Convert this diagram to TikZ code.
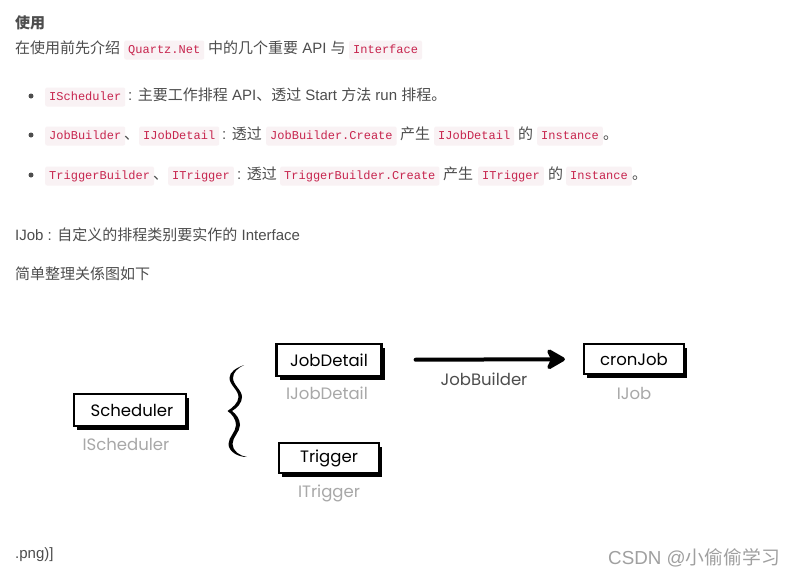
\documentclass[tikz,border=0pt]{standalone}
\usepackage{fontspec}
\setmainfont{Liberation Sans}
\setmonofont{Liberation Mono}
\newfontfamily\cjk{Noto Sans CJK SC}
\newfontfamily\sketchfont{Poppins}
\usetikzlibrary{arrows.meta}
\usetikzlibrary{shadows}
\newcommand{\zh}[1]{{\cjk #1}}
\definecolor{bodytext}{HTML}{4D4D4D}
\definecolor{codetext}{HTML}{C7254E}
\definecolor{codeback}{HTML}{F9F2F4}
\definecolor{labelgray}{HTML}{A8A8A8}
\definecolor{markgray}{HTML}{A0A0A0}
\tikzset{
    para/.style={anchor=base west, inner sep=0pt, text=bodytext, font=\fontsize{15}{17}\selectfont},
    codebox/.style={anchor=base west, fill=codeback, text=codetext, rounded corners=2pt, inner xsep=4pt, inner ysep=3.5pt,
        text height=9pt, text depth=3pt, font=\ttfamily\fontsize{12}{14}\selectfont},
    dotmark/.style={circle, fill=bodytext, inner sep=0pt, minimum size=5pt},
    sketchbox/.style={draw=black, fill=white, line width=2.2pt, inner sep=0pt, font=\sketchfont\fontsize{16.5}{20}\selectfont,
        drop shadow={shadow xshift=3pt, shadow yshift=-4pt, fill=black, opacity=1}},
    sketchlabel/.style={text=labelgray, inner sep=0pt, font=\sketchfont\fontsize{16.5}{20}\selectfont},
}
\begin{document}
\begin{tikzpicture}[x=1pt,y=-1pt]
            \useasboundingbox[fill=white] (0,0) rectangle (794,576);

            \node[para] (title) at (15,28) {\zh{\bfseries 使用}};
            \node[para] (introA) at (15,53) {\zh{在使用前先介绍}};
            \node[codebox] (quartz) at (124,53) {Quartz.Net};
            \node[para] (introB) at (208,53) {\zh{中的几个重要} API \zh{与}};
            \node[codebox] (iface) at (349,53) {Interface};

            \node[dotmark] (dotA) at (31,96) {};
            \node[codebox] (schedcode) at (45,100) {IScheduler};
            \node[para] (schedtext) at (128,100) {: \zh{主要工作排程} API\zh{、透过} Start \zh{方法} run \zh{排程。}};

            \node[dotmark] (dotB) at (31,135) {};
            \node[codebox] (jobcode) at (45,139) {JobBuilder};
            \node[para] (jobsep) at (124,139) {\zh{、}};
            \node[codebox] (detailcode) at (139,139) {IJobDetail};
            \node[para] (jobtextA) at (222,139) {: \zh{透过}};
            \node[codebox] (jobcreate) at (266,139) {JobBuilder.Create};
            \node[para] (jobtextB) at (400,139) {\zh{产生}};
            \node[codebox] (detailcodeB) at (434,139) {IJobDetail};
            \node[para] (jobtextC) at (518,139) {\zh{的}};
            \node[codebox] (jobinst) at (537,139) {Instance};
            \node[para] (jobend) at (603,139) {\zh{。}};

            \node[dotmark] (dotC) at (31,175) {};
            \node[codebox] (trigcode) at (45,179) {TriggerBuilder};
            \node[para] (trigsep) at (153,179) {\zh{、}};
            \node[codebox] (itrigcode) at (168,179) {ITrigger};
            \node[para] (trigtextA) at (237,179) {: \zh{透过}};
            \node[codebox] (trigcreate) at (280,179) {TriggerBuilder.Create};
            \node[para] (trigtextB) at (443,179) {\zh{产生}};
            \node[codebox] (itrigcodeB) at (478,179) {ITrigger};
            \node[para] (trigtextC) at (548,179) {\zh{的}};
            \node[codebox] (triginst) at (566,179) {Instance};
            \node[para] (trigend) at (632,179) {\zh{。}};

            \node[para] (ijobtext) at (15,240) {IJob : \zh{自定义的排程类别要实作的} Interface};
            \node[para] (summary) at (15,279) {\zh{简单整理关係图如下}};

            \node[sketchbox, minimum width=112pt, minimum height=32pt] (Scheduler) at (130,410) {\hspace{4pt}Scheduler};
            \node[sketchbox, minimum width=105pt, minimum height=32pt] (JobDetail) at (329,360) {JobDetail\hspace{9pt}};
            \node[sketchbox, minimum width=100pt, minimum height=30pt] (Trigger) at (329,458) {\raisebox{-1.5pt}{Trigger}\hspace{6pt}};
            \node[sketchbox, minimum width=100pt, minimum height=30pt] (cronJob) at (634,359) {cronJob\hspace{8pt}};

            \node[sketchlabel] (ISched) at (126,444) {IScheduler};
            \node[sketchlabel] (IDetail) at (327,393) {IJobDetail};
            \node[sketchlabel] (ITrig) at (329,493) {ITrigger};
            \node[sketchlabel] (IJobname) at (634,393) {IJob};

            \draw[line width=4pt, line cap=round, shorten <=33pt, shorten >=18pt, -{Stealth[length=22pt,width=25pt,inset=6pt,round]}] (JobDetail) -- (cronJob);
            \node[sketchlabel, text=bodytext] (builder) at (484,379) {JobBuilder};

            \fill[black] (244,365) .. controls (236,368) and (229.5,372) .. (229.5,378) .. controls (229.5,385) and (238.5,390) .. (238.5,397)
                .. controls (238.5,403) and (232,408) .. (227.5,411) .. controls (232,414) and (236,419) .. (236,425)
                .. controls (236,432) and (228.5,437) .. (228.5,444) .. controls (228.5,451) and (237,457) .. (247,457)
                .. controls (240,456) and (232.5,451) .. (232.5,444) .. controls (232.5,437) and (240,432) .. (240,425)
                .. controls (240,419) and (236,414) .. (232,411) .. controls (237,408) and (242,403) .. (242,397)
                .. controls (242,390) and (233,385) .. (233,378) .. controls (233,372) and (238,368) .. (244,365) -- cycle;

            \node[para] (pngtext) at (15,558) {.png)]};
            \node[anchor=base east, inner sep=0pt, text=markgray, font=\fontsize{18.8}{20}\selectfont] (mark) at (780,564) {CSDN @\zh{小偷偷学习}};
        \end{tikzpicture}
\end{document}
